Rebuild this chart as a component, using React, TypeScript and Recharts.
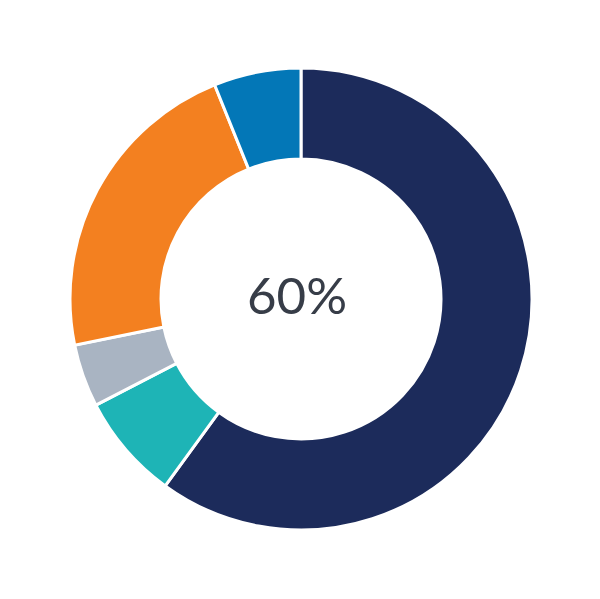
import React from 'react';
import { PieChart, Pie, Cell } from 'recharts';

const segmentNames = ['Navy', 'Teal', 'Gray', 'Orange', 'Blue'];
const segmentValues = [60, 7.4, 4.4, 22.1, 6.1];
const segmentColors = ['#1c2b5b', '#1eb4b6', '#a9b4c2', '#f38020', '#0377b7'];
const centerLabel = '60%';

const data = segmentNames.map((name, i) => ({ name, value: segmentValues[i] }));

const App: React.FC = () => {
  return (
    <div style={{ width: 600, height: 599, position: 'relative' }}>
      <style>{`body { margin: 0; }`}</style>
      <PieChart width={600} height={599}>
        <Pie
          data={data}
          dataKey="value"
          nameKey="name"
          cx={296}
          cy={294}
          innerRadius={140}
          outerRadius={231}
          startAngle={90}
          endAngle={-270}
          stroke="#ffffff"
          strokeWidth={3}
          isAnimationActive={false}
        >
          {data.map((d, i) => (
            <Cell key={d.name} fill={segmentColors[i]} />
          ))}
        </Pie>
        <text
          x={297}
          y={294}
          textAnchor="middle"
          dominantBaseline="central"
          fontFamily="Lato, sans-serif"
          fontSize={51}
          fill="#373d48"
        >
          {centerLabel}
        </text>
      </PieChart>
    </div>
  );
};

export default App;
